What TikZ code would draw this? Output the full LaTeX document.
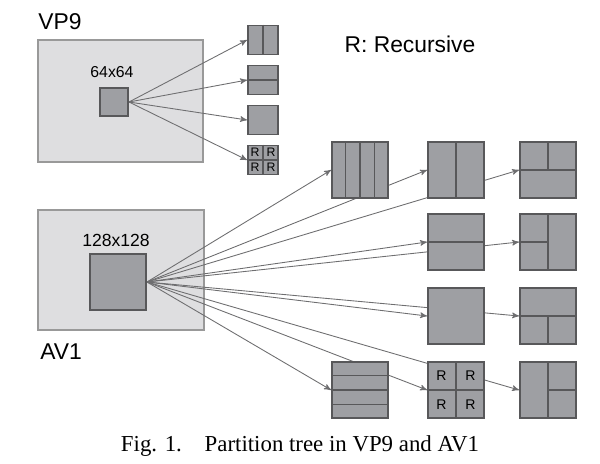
\documentclass[tikz,border=0pt]{standalone}
\usepackage{fontspec}
\setmainfont{Liberation Serif}
\newfontfamily\labelfont{Liberation Sans}
\usetikzlibrary{arrows,calc}
\pgfdeclarelayer{bg}
\pgfdeclarelayer{mid}
\pgfsetlayers{bg,mid,main}
\definecolor{boxfill}{RGB}{158,159,163}
\definecolor{boxline}{RGB}{88,88,90}
\definecolor{areafill}{RGB}{222,222,224}
\definecolor{arrowcol}{RGB}{110,110,112}
\tikzset{
    area/.style={draw=gray!80,fill=areafill,line width=0.6pt},
    block/.style={draw=boxline,fill=boxfill,line width=1.1pt,inner sep=0pt},
    bigpart/.style={block,minimum width=1.12cm,minimum height=1.12cm},
    smallpart/.style={block,minimum width=0.6cm,minimum height=0.58cm},
    split/.style={draw=boxline,line width=1.1pt},
    link/.style={->,draw=arrowcol,line width=0.5pt},
    tag/.style={font=\labelfont\fontsize{#1}{#1}\selectfont,inner sep=0pt}
}
\begin{document}
\begin{tikzpicture}[x=0.02cm,y=-0.02cm,>=stealth']
\useasboundingbox (0,0) rectangle (600,464);

% areas
\begin{pgfonlayer}{bg}
\fill[area] (38,40) rectangle (203,162);
\fill[area] (38,210) rectangle (204,330);
\end{pgfonlayer}
\node[tag=13,anchor=west] (vplabel) at (38,22) {VP9};
\node[tag=13,anchor=west] (avlabel) at (40,352) {AV1};
\node[tag=13] (legend) at (410,44) {R: Recursive};
\node[tag=9] (vpsize) at (112,72) {64x64};
\node[tag=10] (avsize) at (116,240) {128x128};

% source blocks
\node[block,minimum width=0.56cm,minimum height=0.56cm] (vpsrc) at (114,102) {};
\node[block,minimum width=1.12cm,minimum height=1.12cm] (avsrc) at (118,282) {};

% VP9 partitions
\node[smallpart] (vpv) at (263,40)  {};
\node[smallpart] (vph) at (263,80)  {};
\node[smallpart] (vpn) at (263,120) {};
\node[smallpart] (vpq) at (263,160) {};
\draw[split] (vpv.north) -- (vpv.south);
\draw[split] (vph.west) -- (vph.east);
\draw[split] (vpq.north) -- (vpq.south) (vpq.west) -- (vpq.east);
\foreach \p in {north west,north east,south west,south east}
  \node[tag=7] at ($(vpq.center)!0.5!(vpq.\p)$) {R};

% AV1 partitions
\node[bigpart] (avv4) at (360,170) {};
\node[bigpart] (avh4) at (360,390) {};
\node[bigpart] (avv)  at (456,170) {};
\node[bigpart] (avh)  at (456,242) {};
\node[bigpart] (avn)  at (456,316) {};
\node[bigpart] (avq)  at (456,390) {};
\node[bigpart] (avta) at (548,170) {};
\node[bigpart] (avtl) at (548,242) {};
\node[bigpart] (avtb) at (548,316) {};
\node[bigpart] (avtr) at (548,390) {};
\foreach \f in {0.25,0.5,0.75}{
  \draw[split] ($(avv4.north west)!\f!(avv4.north east)$) -- ($(avv4.south west)!\f!(avv4.south east)$);
  \draw[split] ($(avh4.north west)!\f!(avh4.south west)$) -- ($(avh4.north east)!\f!(avh4.south east)$);
}
\draw[split] (avv.north) -- (avv.south);
\draw[split] (avh.west) -- (avh.east);
\draw[split] (avq.north) -- (avq.south) (avq.west) -- (avq.east);
\foreach \p in {north west,north east,south west,south east}
  \node[tag=8] at ($(avq.center)!0.5!(avq.\p)$) {R};
\draw[split] (avta.west) -- (avta.east) (avta.north) -- (avta.center);
\draw[split] (avtl.north) -- (avtl.south) (avtl.west) -- (avtl.center);
\draw[split] (avtb.west) -- (avtb.east) (avtb.center) -- (avtb.south);
\draw[split] (avtr.north) -- (avtr.south) (avtr.center) -- (avtr.east);

% connectors
\begin{pgfonlayer}{mid}
\foreach \t in {vpv,vph,vpn,vpq}
  \draw[link] (vpsrc.east) -- (\t.west);
\foreach \t in {avv4,avh4,avv,avh,avn,avq,avta,avtl,avtb,avtr}
  \draw[link] (avsrc.east) -- (\t.west);
\end{pgfonlayer}

\node[font=\fontsize{13}{15}\selectfont] (caption) at (300,446) {Fig. 1.\quad Partition tree in VP9 and AV1};
\end{tikzpicture}
\end{document}
